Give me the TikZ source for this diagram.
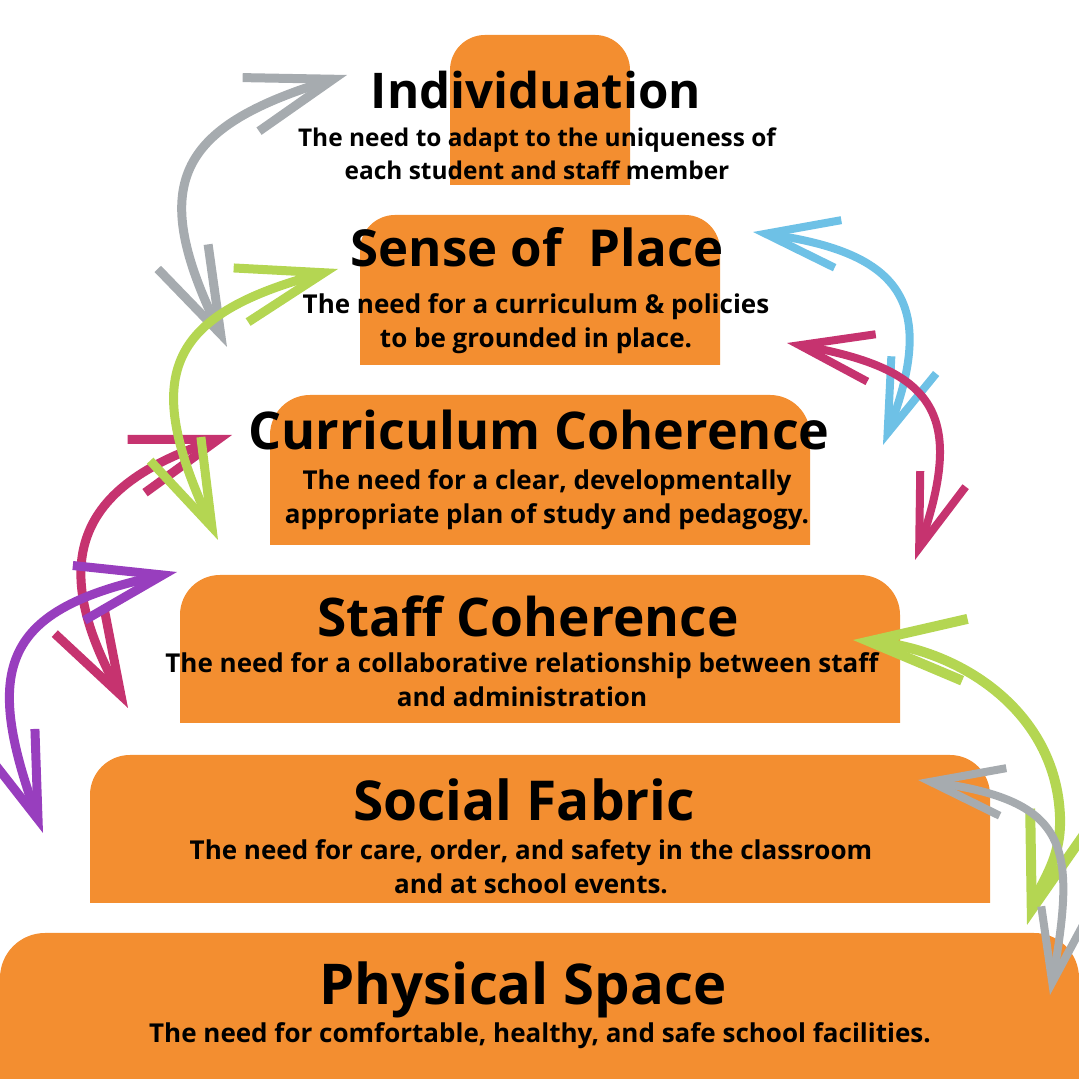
\documentclass[tikz,border=0pt]{standalone}
\usepackage{fontspec}
\setmainfont{Open Sans}
\usetikzlibrary{arrows.meta}
\definecolor{tierorange}{RGB}{243,142,48}
\definecolor{swirlgray}{RGB}{166,171,175}
\definecolor{swirlgreen}{RGB}{180,214,82}
\definecolor{swirlmagenta}{RGB}{198,51,111}
\definecolor{swirlpurple}{RGB}{152,62,190}
\definecolor{swirlblue}{RGB}{110,193,230}
\tikzset{
    tierblock/.style = {fill=tierorange},
    titlenode/.style = {draw=none, inner sep=0em, anchor=base},
    descnode/.style = {draw=none, inner sep=0em, anchor=base, align=center},
    bigswirl/.style = {line width=0.9mm, >={Straight Barb[length=8.6mm, width=5.6mm]}, <->},
    smallswirl/.style = {line width=0.8mm, >={Straight Barb[length=7.3mm, width=4.8mm]}, <->}
}

\begin{document}
\begin{tikzpicture}[x=0.1mm, y=0.1mm]
    \useasboundingbox (0,0) rectangle (1079,1079);

    % the six tiers
    \fill[tierblock] (450,894) -- (450,1009) arc[start angle=180, end angle=90, radius=35] -- (595,1044) arc[start angle=90, end angle=0, radius=35] -- (630,894) -- cycle;
    \fill[tierblock] (360,714) -- (360,829) arc[start angle=180, end angle=90, radius=35] -- (685,864) arc[start angle=90, end angle=0, radius=35] -- (720,714) -- cycle;
    \fill[tierblock] (270,534) -- (270,644) arc[start angle=180, end angle=90, radius=40] -- (770,684) arc[start angle=90, end angle=0, radius=40] -- (810,534) -- cycle;
    \fill[tierblock] (180,356) -- (180,464) arc[start angle=180, end angle=90, radius=40] -- (860,504) arc[start angle=90, end angle=0, radius=40] -- (900,356) -- cycle;
    \fill[tierblock] (90,176) -- (90,284) arc[start angle=180, end angle=90, radius=40] -- (950,324) arc[start angle=90, end angle=0, radius=40] -- (990,176) -- cycle;
    \fill[tierblock] (0,0) -- (0,101) arc[start angle=180, end angle=90, radius=45] -- (1034,146) arc[start angle=90, end angle=0, radius=45] -- (1079,0) -- cycle;

    \node [name=indiv, titlenode, font=\bfseries\fontsize{14.0}{16}\selectfont] at (536,970) {Individuation};
    \node [name=indivtxt, descnode, font=\bfseries\fontsize{6.95}{9.5}\selectfont] at (537,899)
        {The need to adapt to the uniqueness of\\each student and staff member};

    \node [name=place, titlenode, font=\bfseries\fontsize{14.5}{16}\selectfont] at (537,812) {Sense of\ \ Place};
    \node [name=placetxt, descnode, font=\bfseries\fontsize{7.4}{9.7}\selectfont] at (536,731)
        {The need for a curriculum \& policies\\to be grounded in place.};

    \node [name=curric, titlenode, font=\bfseries\fontsize{14.8}{16}\selectfont] at (539,629) {Curriculum Coherence};
    \node [name=currictxt, descnode, font=\bfseries\fontsize{7.4}{9.7}\selectfont] at (547,555)
        {The need for a clear, developmentally\\appropriate plan of study and pedagogy.};

    \node [name=staff, titlenode, font=\bfseries\fontsize{15.15}{17}\selectfont] at (528,442) {Staff Coherence};
    \node [name=stafftxt, descnode, font=\bfseries\fontsize{7.4}{9.7}\selectfont] at (522,372)
        {The need for a collaborative relationship between staff\\and administration};

    \node [name=social, titlenode, font=\bfseries\fontsize{15.65}{18}\selectfont] at (524,258) {Social Fabric};
    \node [name=socialtxt, descnode, font=\bfseries\fontsize{7.4}{9.7}\selectfont] at (531,185)
        {The need for care, order, and safety in the classroom\\and at school events.};

    \node [name=physical, titlenode, font=\bfseries\fontsize{16.0}{18}\selectfont] at (523,74) {Physical Space};
    \node [name=physicaltxt, descnode, font=\bfseries\fontsize{7.4}{9.7}\selectfont] at (540,37)
        {The need for comfortable, healthy, and safe school facilities.};

    % arrow ends
    \coordinate (grayA) at (227,732);
    \coordinate (grayB) at (347,1004);
    \coordinate (greenA) at (218,539);
    \coordinate (greenB) at (338,810);
    \coordinate (magentaA) at (128,371);
    \coordinate (magentaB) at (232,644);
    \coordinate (purpleA) at (43,246);
    \coordinate (purpleB) at (177,507);
    \coordinate (blueA) at (753,847);
    \coordinate (blueB) at (883,634);
    \coordinate (magentaC) at (787,736);
    \coordinate (magentaD) at (915,519);
    \coordinate (greenC) at (853,439);
    \coordinate (greenbend) at (1060,262);
    \coordinate (greenD) at (1027,154);
    \coordinate (grayC) at (918,299);
    \coordinate (grayD) at (1050,84);

    \draw [bigswirl, swirlgray] (grayA) to[out=116, in=197, looseness=1.55] (grayB);
    \draw [bigswirl, swirlmagenta] (magentaA) to[out=119, in=198, looseness=1.45] (magentaB);
    \draw [bigswirl, swirlgreen] (greenA) to[out=115, in=195, looseness=1.55] (greenB);
    \draw [bigswirl, swirlpurple] (purpleA) to[out=110, in=192, looseness=1.55] (purpleB);

    \draw [smallswirl, swirlblue] (blueA) to[out=-8, in=69, looseness=1.55] (blueB);
    \draw [smallswirl, swirlmagenta] (magentaC) to[out=-10, in=71, looseness=1.55] (magentaD);
    \draw [bigswirl, swirlgreen, line width=1mm, >={Straight Barb[length=9.6mm, width=6.2mm]}] (greenC) to[out=-5, in=92] (greenbend) to[out=-88, in=73] (greenD);
    \draw [smallswirl, swirlgray] (grayC) to[out=-8, in=80, looseness=1.55] (grayD);
\end{tikzpicture}
\end{document}
